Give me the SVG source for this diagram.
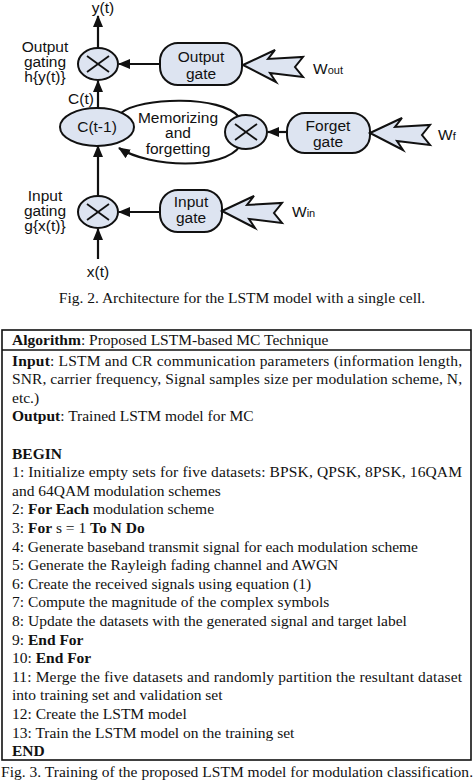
<svg xmlns="http://www.w3.org/2000/svg" width="474" height="780" viewBox="0 0 474 780">
<defs>
<style>
.d{font-family:"Liberation Sans",Arial,sans-serif;font-size:15.5px;fill:#111;text-anchor:middle}
.sub{font-size:11px}
.node{fill:#dde4f1;stroke:#111;stroke-width:2}
.ln{stroke:#111;stroke-width:2.2;fill:none}
.x{stroke:#111;stroke-width:1.8}
.t{font-family:"Liberation Serif","Times New Roman",serif;font-size:15.5px;fill:#111}
.b{font-weight:bold}
</style>
<marker id="ah" viewBox="0 0 12 10" refX="11" refY="5" markerWidth="12" markerHeight="10" markerUnits="userSpaceOnUse" orient="auto">
<path d="M0,0 L12,5 L0,10 Z" fill="#111"/>
</marker>
<path id="chev" d="M0,0 L32,-15 L25,-6 L60,-8 L52,2 L60,12 L27,8 L33,17 Z" fill="#dde4f1" stroke="#111" stroke-width="2" stroke-linejoin="miter"/>
</defs>
<rect width="474" height="780" fill="#fff"/>

<g id="connectors">
<line class="ln" x1="98" y1="48" x2="98" y2="16" marker-end="url(#ah)"/>
<line class="ln" x1="160" y1="64" x2="119" y2="64" marker-end="url(#ah)"/>
<line class="ln" x1="98" y1="108" x2="98" y2="81" marker-end="url(#ah)"/>
<path class="ln" d="M121,113 C140,97 222,95 239,117"/>
<path class="ln" d="M240,146 C224,170 150,168 119,148" marker-end="url(#ah)"/>
<line class="ln" x1="287" y1="132" x2="268" y2="132" marker-end="url(#ah)"/>
<line class="ln" x1="98" y1="196" x2="98" y2="146" marker-end="url(#ah)"/>
<line class="ln" x1="160" y1="212" x2="119" y2="212" marker-end="url(#ah)"/>
<line class="ln" x1="98" y1="259" x2="98" y2="229" marker-end="url(#ah)"/>
</g>

<g id="y-out"><text class="d" x="103" y="13">y(t)</text></g>
<g id="mult-out">
<ellipse class="node" cx="98" cy="64" rx="20" ry="16"/>
<line class="x" x1="87" y1="56" x2="109" y2="72"/><line class="x" x1="87" y1="72" x2="109" y2="56"/>
</g>
<g id="label-output-gating"><text class="d" x="45" y="52">Output</text><text class="d" x="45" y="67">gating</text><text class="d" x="45" y="82">h{y(t)}</text></g>
<g id="output-gate">
<rect class="node" x="160" y="43" width="82" height="42" rx="18"/>
<text class="d" x="201" y="62">Output</text><text class="d" x="201" y="79">gate</text>
</g>
<g id="w-out"><use href="#chev" x="243" y="65"/><text class="d" x="313" y="74" style="text-anchor:start">W<tspan class="sub">out</tspan></text></g>

<g id="c-t"><text class="d" x="81" y="104">C(t)</text></g>
<g id="cell">
<ellipse class="node" cx="97" cy="127" rx="37" ry="19"/>
<text class="d" x="97" y="132">C(t-1)</text>
</g>
<g id="memorizing"><text class="d" x="178" y="123">Memorizing</text><text class="d" x="178" y="138">and</text><text class="d" x="178" y="154">forgetting</text></g>
<g id="mult-forget">
<ellipse class="node" cx="246" cy="132" rx="21" ry="17"/>
<line class="x" x1="235" y1="124" x2="257" y2="140"/><line class="x" x1="235" y1="140" x2="257" y2="124"/>
</g>
<g id="forget-gate">
<rect class="node" x="287" y="113" width="83" height="40" rx="18"/>
<text class="d" x="328" y="131">Forget</text><text class="d" x="328" y="147">gate</text>
</g>
<g id="w-f"><use href="#chev" x="370" y="133"/><text class="d" x="438" y="140" style="text-anchor:start">W<tspan class="sub">f</tspan></text></g>

<g id="mult-in">
<ellipse class="node" cx="98" cy="212" rx="20" ry="16"/>
<line class="x" x1="87" y1="204" x2="109" y2="220"/><line class="x" x1="87" y1="220" x2="109" y2="204"/>
</g>
<g id="label-input-gating"><text class="d" x="45" y="201">Input</text><text class="d" x="45" y="216">gating</text><text class="d" x="45" y="231">g{x(t)}</text></g>
<g id="input-gate">
<rect class="node" x="160" y="190" width="62" height="42" rx="18"/>
<text class="d" x="191" y="207">Input</text><text class="d" x="191" y="223">gate</text>
</g>
<g id="w-in"><use href="#chev" x="222" y="211"/><text class="d" x="292" y="217" style="text-anchor:start">W<tspan class="sub">in</tspan></text></g>
<g id="x-in"><text class="d" x="98" y="277">x(t)</text></g>

<text class="t" x="242" y="303" text-anchor="middle">Fig. 2. Architecture for the LSTM model with a single cell.</text>

<g id="algorithm">
<rect x="2" y="330" width="469" height="430" fill="none" stroke="#111" stroke-width="1.6"/>
<line x1="2" y1="350" x2="471" y2="350" stroke="#111" stroke-width="1.4"/>
<text class="t" x="12" y="345"><tspan class="b">Algorithm</tspan>: Proposed LSTM-based MC Technique</text>
<text class="t" x="12" y="365.5" textLength="450" lengthAdjust="spacing"><tspan class="b">Input</tspan>: LSTM and CR communication parameters (information length,</text>
<text class="t" x="12" y="384.1" textLength="450" lengthAdjust="spacing">SNR, carrier frequency, Signal samples size per modulation scheme, N,</text>
<text class="t" x="12" y="402.7">etc.)</text>
<text class="t" x="12" y="421.3"><tspan class="b">Output</tspan>: Trained LSTM model for MC</text>
<text class="t b" x="12" y="458.5">BEGIN</text>
<text class="t" x="12" y="477.1" textLength="450" lengthAdjust="spacing">1: Initialize empty sets for five datasets: BPSK, QPSK, 8PSK, 16QAM</text>
<text class="t" x="12" y="495.7">and 64QAM modulation schemes</text>
<text class="t" x="12" y="514.3">2: <tspan class="b">For Each</tspan> modulation scheme</text>
<text class="t" x="12" y="532.9">3: <tspan class="b">For</tspan> s = 1 <tspan class="b">To N Do</tspan></text>
<text class="t" x="12" y="551.5" textLength="406" lengthAdjust="spacing">4: Generate baseband transmit signal for each modulation scheme</text>
<text class="t" x="12" y="570.1">5: Generate the Rayleigh fading channel and AWGN</text>
<text class="t" x="12" y="588.7">6: Create the received signals using equation (1)</text>
<text class="t" x="12" y="607.3">7: Compute the magnitude of the complex symbols</text>
<text class="t" x="12" y="625.9">8: Update the datasets with the generated signal and target label</text>
<text class="t" x="12" y="644.5">9: <tspan class="b">End For</tspan></text>
<text class="t" x="12" y="663.1">10: <tspan class="b">End For</tspan></text>
<text class="t" x="12" y="681.7" textLength="450" lengthAdjust="spacing">11: Merge the five datasets and randomly partition the resultant dataset</text>
<text class="t" x="12" y="700.3">into training set and validation set</text>
<text class="t" x="12" y="718.9">12: Create the LSTM model</text>
<text class="t" x="12" y="737.5">13: Train the LSTM model on the training set</text>
<text class="t b" x="12" y="756.1">END</text>
</g>
<text class="t" x="1" y="777" textLength="472" lengthAdjust="spacing">Fig. 3. Training of the proposed LSTM model for modulation classification.</text>
</svg>
